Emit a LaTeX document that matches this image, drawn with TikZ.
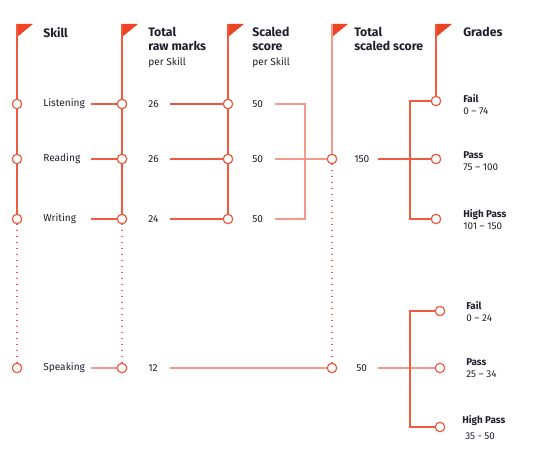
\documentclass[tikz,border=0pt]{standalone}
\usepackage{fontspec}
\setmainfont{Fira Sans}
\definecolor{lred}{HTML}{EF5A40}
\definecolor{lpink}{HTML}{F49A8C}
\definecolor{flagred}{HTML}{EE4324}
\definecolor{txt}{HTML}{1F1F2B}
\begin{document}
\begin{tikzpicture}[x=0.75pt,y=-0.75pt,
  ln/.style={draw=lred,line width=0.8pt},
  lt/.style={draw=lpink,line width=0.95pt},
  dln/.style={draw=lred,line width=0.9pt,dash pattern=on 0.9pt off 3.6pt},
  dot/.style={circle,draw=lred,fill=white,line width=0.8pt,minimum size=7pt,inner sep=0pt},
  hd/.style={anchor=north west,inner sep=0pt,text=txt,align=left,font=\fontsize{9.2}{10.8}\selectfont},
  tx/.style={anchor=west,inner sep=0pt,text=txt,font=\fontsize{7.6}{9}\selectfont},
  gr/.style={anchor=west,inner sep=0pt,text=txt,align=left,font=\fontsize{7.4}{9}\selectfont},
  flag/.style={fill=flagred}]
\useasboundingbox (0,0) rectangle (546,453);
% flags and column tops
\foreach \n/\x in {1/17,2/122,3/228,4/332,5/436}{
  \coordinate (f\n) at (\x,24);
  \fill[flag] (\x,24) -- ++(16,0) -- ++(-16,13) -- cycle;
}
% headers
\node[hd] (h1) at (43,27) {\textbf{Skill}};
\node[hd] (h2) at (148,27) {\textbf{Total}\\\textbf{raw marks}\\{\fontsize{7.6}{9}\selectfont per Skill}};
\node[hd] (h3) at (252,27) {\textbf{Scaled}\\\textbf{score}\\{\fontsize{7.6}{9}\selectfont per Skill}};
\node[hd] (h4) at (354,27) {\textbf{Total}\\\textbf{scaled score}};
\node[hd] (h5) at (463,27) {\textbf{Grades}};
% row coordinates
\def\yL{104}\def\yR{159}\def\yW{219}\def\yS{368}
% circles
\node[dot] (c1L) at (17,\yL) {};
\node[dot] (c1R) at (17,\yR) {};
\node[dot] (c1W) at (17,\yW) {};
\node[dot] (c1S) at (17,\yS) {};
\node[dot] (c2L) at (122,\yL) {};
\node[dot] (c2R) at (122,\yR) {};
\node[dot] (c2W) at (122,\yW) {};
\node[dot] (c2S) at (122,\yS) {};
\node[dot] (c3L) at (228,\yL) {};
\node[dot] (c3R) at (228,\yR) {};
\node[dot] (c3W) at (228,\yW) {};
\node[dot] (c4R) at (332,\yR) {};
\node[dot] (c4S) at (332,\yS) {};
\node[dot] (g1) at (436,101) {};
\node[dot] (g2) at (436,159) {};
\node[dot] (g3) at (436,219) {};
\node[dot] (k1) at (440,311) {};
\node[dot] (k2) at (440,368) {};
\node[dot] (k3) at (440,427) {};
% labels
\node[tx] (sL) at (43,\yL) {Listening};
\node[tx] (sR) at (43,\yR) {Reading};
\node[tx] (sW) at (43,\yW) {Writing};
\node[tx] (sS) at (43,\yS) {Speaking};
\node[tx] (rL) at (148,\yL) {26};
\node[tx] (rR) at (148,\yR) {26};
\node[tx] (rW) at (148,\yW) {24};
\node[tx] (rS) at (148,\yS) {12};
\node[tx] (pL) at (252,\yL) {50};
\node[tx] (pR) at (252,\yR) {50};
\node[tx] (pW) at (252,\yW) {50};
\node[tx] (t1) at (354,\yR) {150};
\node[tx] (t2) at (356,\yS) {50};
\node[gr] (gl1) at (463,104.5) {\textbf{Fail}\\0 – 74};
\node[gr] (gl2) at (463,161) {\textbf{Pass}\\75 – 100};
\node[gr] (gl3) at (463,220) {\textbf{High Pass}\\101 – 150};
\node[gr] (kl1) at (466,312) {\textbf{Fail}\\0 – 24};
\node[gr] (kl2) at (466,368) {\textbf{Pass}\\25 – 34};
\node[gr] (kl3a) at (462,421) {\textbf{High Pass}};
\node[gr] (kl3b) at (465,436) {35 - 50};
% verticals
\draw[ln] (f1) -- (c1L) -- (c1R) -- (c1W);
\draw[dln] (c1W) -- (c1S);
\draw[ln] (f2) -- (c2L) -- (c2R) -- (c2W);
\draw[dln] (c2W) -- (c2S);
\draw[ln] (f3) -- (c3L) -- (c3R) -- (c3W);
\draw[lt] (f4) -- (c4R);
\draw[dln] (c4R) -- (c4S);
\draw[ln] (f5) -- (g1);
% free ends
\foreach \r/\y in {L/\yL,R/\yR,W/\yW,S/\yS}{
  \coordinate (a\r) at (91,\y);
  \coordinate (b\r) at (170,\y);
  \coordinate (e\r) at (275,\y);
}
\coordinate (m1) at (378,\yR);
\coordinate (m2) at (378,\yS);
% row connectors
\draw[ln] (aL) -- (c2L);
\draw[ln] (aR) -- (c2R);
\draw[ln] (aW) -- (c2W);
\draw[lt] (aS) -- (c2S);
\draw[ln] (bL) -- (c3L);
\draw[ln] (bR) -- (c3R);
\draw[ln] (bW) -- (c3W);
\draw[lt] (bS) -- (c4S);
\draw[lt] (eL) -- (305,\yL) -- (305,\yW) -- (eW);
\draw[lt] (eR) -- (c4R);
\draw[ln] (m1) -- (g2);
\draw[ln] (g1) -- (410,101) -- (410,219) -- (g3);
\draw[lt] (m2) -- (k2);
\draw[ln] (k1) -- (410,311) -- (410,427) -- (k3);
% redraw circles on top
\foreach \c in {c1L,c1R,c1W,c1S,c2L,c2R,c2W,c2S,c3L,c3R,c3W,c4R,c4S,g1,g2,g3,k1,k2,k3}{
  \draw[lred,line width=0.8pt,fill=white] (\c) circle (3.5pt);
}
\end{tikzpicture}
\end{document}
